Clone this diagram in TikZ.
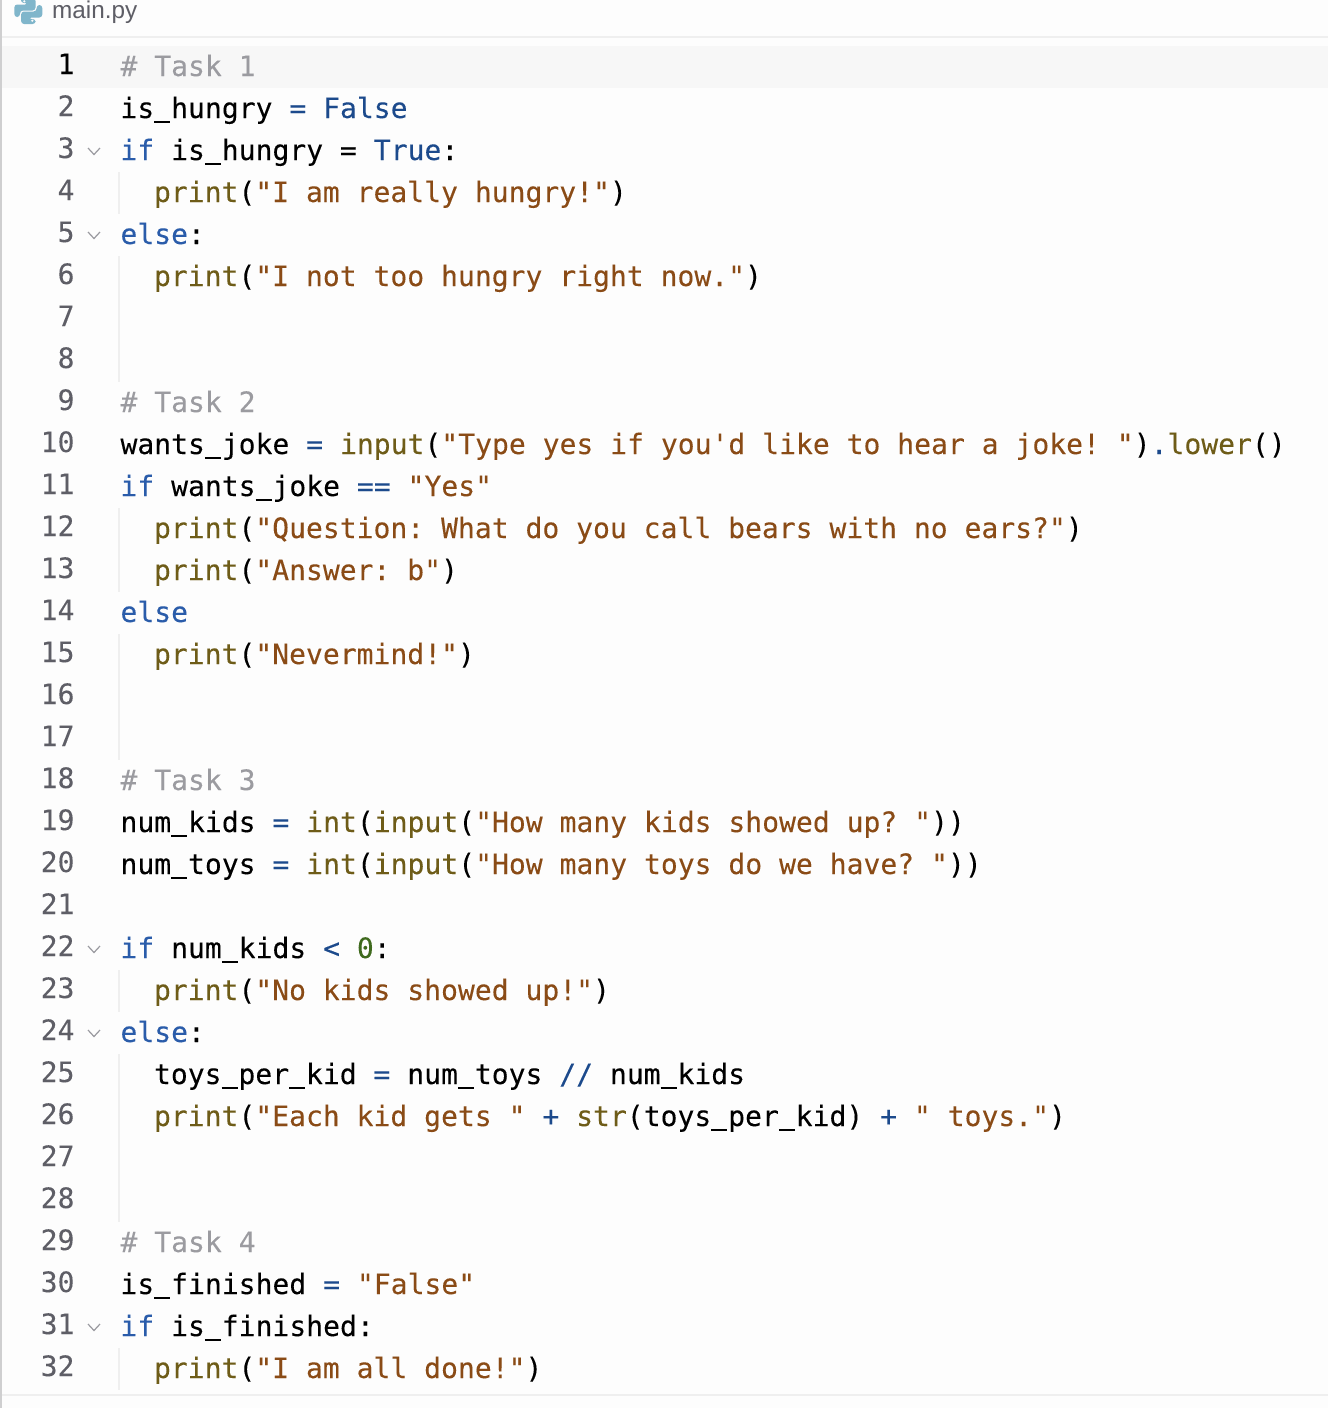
\documentclass[tikz,border=0pt]{standalone}
\usepackage{fontspec}
\setmainfont{Liberation Sans}
\newfontfamily\codefont[FakeBold=0.1]{DejaVu Sans Mono}
\definecolor{bgc}{HTML}{FDFDFD}
\definecolor{curline}{HTML}{F7F7F7}
\definecolor{rulec}{HTML}{EFEFEF}
\definecolor{edgec}{HTML}{CFCFD0}
\definecolor{guidec}{HTML}{EFEFEF}
\definecolor{numc}{HTML}{5E5E66}
\definecolor{chevc}{HTML}{9A9AA0}
\definecolor{kwc}{HTML}{2A5CAA}
\definecolor{cstc}{HTML}{1C4A8C}
\definecolor{strc}{HTML}{8A4B16}
\definecolor{fnc}{HTML}{6E5C18}
\definecolor{comc}{HTML}{9B9BA0}
\definecolor{nmc}{HTML}{3F6A1E}
\definecolor{logoc}{HTML}{80B6CB}
\newcommand{\Ckw}[1]{\textcolor{kwc}{#1}}
\newcommand{\Ccs}[1]{\textcolor{cstc}{#1}}
\newcommand{\Cst}[1]{\textcolor{strc}{#1}}
\newcommand{\Cfn}[1]{\textcolor{fnc}{#1}}
\newcommand{\Cco}[1]{\textcolor{comc}{#1}}
\newcommand{\Cnm}[1]{\textcolor{nmc}{#1}}
% a real underscore glyph, hidden, with a firmer rule over it at the reference's height
\newcommand{\us}{\leavevmode\rlap{\raisebox{-4.5pt}{\rule{16pt}{1.9pt}}}\phantom{\_}}
\newcommand{\snakepath}{(21,-2) -- (35.5,-2) -- (35.5,10.5) -- (20,10.5) -- (20,17) -- (14.3,17) -- (14.3,4.5) -- (28,4.5) -- (28,3) -- (21,3) -- cycle}
\tikzset{
  codeline/.style={anchor=base west,inner sep=0pt,outer sep=0pt,font=\codefont\fontsize{28.05pt}{29pt}\selectfont\frenchspacing,text=black},
  numline/.style={anchor=base east,inner sep=0pt,outer sep=0pt,font=\codefont\fontsize{28.05pt}{29pt}\selectfont,text=numc},
  guide/.style={guidec,line width=2pt},
  chev/.style={chevc,line width=1.2pt},
  snake/.style={fill=logoc,rounded corners=3pt}
}
% \cl{line number}{column}{text}
\newcommand{\cl}[3]{\node[codeline] (l#1) at ({120.5+16.75*#2},{76+42*(#1-1)}) {#3};}
\newcommand{\nm}[1]{\node[numline] (n#1) at (74.5,{74+42*(#1-1)}) {#1};}
\newcommand{\chv}[1]{\draw[chev] (88,{148+42*(#1-3)}) -- (94,{154.5+42*(#1-3)}) -- (100,{148+42*(#1-3)});}
\newcommand{\gd}[2]{\draw[guide] (119,{172+42*(#1-4)}) -- (119,{214+42*(#2-4)});}
\begin{document}
\begin{tikzpicture}[x=1pt,y=-1pt]
\useasboundingbox (0,0) rectangle (1328,1408);
\fill[bgc] (0,0) rectangle (1328,1408);
\fill[curline] (2,46) rectangle (1328,88);
\fill[rulec] (2,36) rectangle (1328,38);
\fill[rulec] (2,1393.5) rectangle (1328,1395.5);
\fill[edgec] (0,0) rectangle (2,1408);
% python logo
\begin{scope}
\clip (0,0) rectangle (60,30);
\fill[snake] \snakepath;
\begin{scope}[shift={(56.6,22)},xscale=-1,yscale=-1]
\fill[snake] \snakepath;
\end{scope}
\fill[bgc] (24.3,1.3) circle (1.2);
\fill[bgc] (32.3,20.7) circle (1.2);
\end{scope}
\node[anchor=base west,inner sep=0pt,text=numc,font=\fontsize{24.3pt}{26pt}\selectfont] (title) at (52,18) {main.py};
% guides
\gd{4}{4}\gd{6}{8}\gd{12}{13}\gd{15}{17}\gd{23}{23}\gd{25}{28}\gd{32}{32}
% chevrons
\chv{3}\chv{5}\chv{22}\chv{24}\chv{31}
% line numbers
\foreach \i in {2,...,32}{\nm{\i}}
\node[numline,text=black] (n1) at (74.5,74) {1};
% code
\cl{1}{0}{\Cco{\# Task 1}}
\cl{2}{0}{is\us hungry \Ccs{=} \Ccs{False}}
\cl{3}{0}{\Ckw{if} is\us hungry = \Ccs{True}:}
\cl{4}{2}{\Cfn{print}(\Cst{"I am really hungry!"})}
\cl{5}{0}{\Ckw{else}:}
\cl{6}{2}{\Cfn{print}(\Cst{"I not too hungry right now."})}
\cl{9}{0}{\Cco{\# Task 2}}
\cl{10}{0}{wants\us joke \Ccs{=} \Cfn{input}(\Cst{"Type yes if you'd like to hear a joke! "})\Ccs{.}\Cfn{lower}()}
\cl{11}{0}{\Ckw{if} wants\us joke \Ccs{==} \Cst{"Yes"}}
\cl{12}{2}{\Cfn{print}(\Cst{"Question: What do you call bears with no ears?"})}
\cl{13}{2}{\Cfn{print}(\Cst{"Answer: b"})}
\cl{14}{0}{\Ckw{else}}
\cl{15}{2}{\Cfn{print}(\Cst{"Nevermind!"})}
\cl{18}{0}{\Cco{\# Task 3}}
\cl{19}{0}{num\us kids \Ccs{=} \Cfn{int}(\Cfn{input}(\Cst{"How many kids showed up? "}))}
\cl{20}{0}{num\us toys \Ccs{=} \Cfn{int}(\Cfn{input}(\Cst{"How many toys do we have? "}))}
\cl{22}{0}{\Ckw{if} num\us kids \Ccs{<} \Cnm{0}:}
\cl{23}{2}{\Cfn{print}(\Cst{"No kids showed up!"})}
\cl{24}{0}{\Ckw{else}:}
\cl{25}{2}{toys\us per\us kid \Ccs{=} num\us toys \Ccs{//} num\us kids}
\cl{26}{2}{\Cfn{print}(\Cst{"Each kid gets "} \Ccs{+} \Cfn{str}(toys\us per\us kid) \Ccs{+} \Cst{" toys."})}
\cl{29}{0}{\Cco{\# Task 4}}
\cl{30}{0}{is\us finished \Ccs{=} \Cst{"False"}}
\cl{31}{0}{\Ckw{if} is\us finished:}
\cl{32}{2}{\Cfn{print}(\Cst{"I am all done!"})}
\end{tikzpicture}
\end{document}
